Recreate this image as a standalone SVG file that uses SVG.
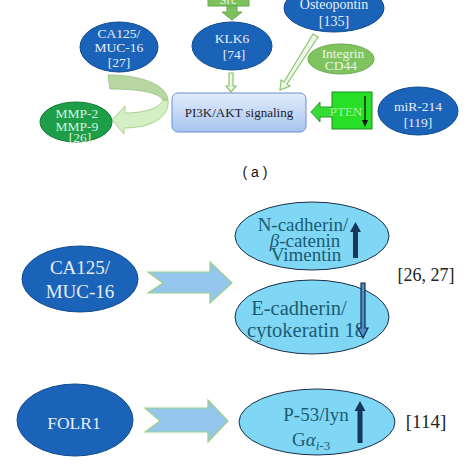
<svg xmlns="http://www.w3.org/2000/svg" width="474" height="474" viewBox="0 0 474 474">
<defs>
<linearGradient id="pg" x1="0" y1="0" x2="0" y2="1">
<stop offset="0" stop-color="#e2edfc"/>
<stop offset="1" stop-color="#a6c4ef"/>
</linearGradient>
<style>
.serif{font-family:"Liberation Serif","Times New Roman",serif;}
.blue{fill:#1a63b8;stroke:#0f4b8f;stroke-width:1;}
.wt{fill:#e6eef9;text-anchor:middle;}
.cyan{fill:#7fd7f5;stroke:#1b2f48;stroke-width:1;}
.ct{fill:#1c5c72;text-anchor:middle;}
.hollow{fill:#eef8e8;stroke:#8cc46f;stroke-width:1.2;}
.barrow{fill:#94c6ee;stroke:#9ccf88;stroke-width:1.2;}
.ref{fill:#222;}
</style>
</defs>
<rect width="474" height="474" fill="#ffffff"/>

<g id="connectors">
<!-- Src to KLK6 -->
<polygon points="227,6 237,6 237,12 242,12 232,20 222,12 227,12" fill="#7dc15f" stroke="#66a84c" stroke-width="1"/>
<!-- KLK6 to PI3K -->
<polygon points="229,73 233,73 233,86 236,86 231,92 226,86 229,86" class="hollow"/>
<!-- Osteopontin to PI3K -->
<polygon points="313,34 318,37 287,84 290,86 280,90 281,80 284,82" class="hollow"/>
<!-- curved arrow CA125 to MMP -->
<path d="M163,100 C160,108 145,113 125,113 L125,106 L112,120 L124,134 L124,128 C150,128 170,118 168,100 Z" fill="#d3efc3" stroke="#a7d490" stroke-width="1"/>
<path d="M108,75 C140,75 166,84 168,100 L163,100 C158,92 138,89 110,89 Z" fill="#b7d6a2" stroke="#a0c98a" stroke-width="1"/>
<!-- PTEN to PI3K -->
<polygon points="332,107 320,107 320,102 311,112 320,122 320,117 332,117" fill="#36dc36" stroke="#2a9a2a" stroke-width="1"/>
<!-- block arrows -->
<polygon points="148,272 210,272 210,262 232,283 210,303 210,293 148,293 163,283" class="barrow"/>
<polygon points="145,408 208,408 208,400 228,421 208,442 208,432 145,432 160,421" class="barrow"/>
</g>

<g id="src">
<rect x="208" y="-4" width="41" height="10" fill="#7dc15f" stroke="#66a84c" stroke-width="1"/>
<text x="228" y="4" class="serif" font-size="13" fill="#e8f5e0" text-anchor="middle">Src</text>
</g>

<g id="osteopontin">
<ellipse cx="334" cy="8" rx="50" ry="24" class="blue"/>
<text x="334" y="9" class="serif wt" font-size="14">Osteopontin</text>
<text x="334" y="26" class="serif wt" font-size="14">[135]</text>
</g>

<g id="klk6">
<ellipse cx="232" cy="46" rx="40" ry="24" class="blue"/>
<text x="232" y="43" class="serif wt" font-size="13.5">KLK6</text>
<text x="234" y="59" class="serif wt" font-size="13.5">[74]</text>
</g>

<g id="ca125-top">
<ellipse cx="119" cy="47" rx="39" ry="25" class="blue"/>
<text x="119" y="38" class="serif wt" font-size="13.5">CA125/</text>
<text x="119" y="52" class="serif wt" font-size="13.5">MUC-16</text>
<text x="119" y="67" class="serif wt" font-size="13.5">[27]</text>
</g>

<g id="integrin">
<ellipse cx="341" cy="59" rx="33" ry="15" fill="#7ec35e" stroke="#68a94d" stroke-width="1"/>
<text x="343" y="58" class="serif" font-size="13.5" fill="#eaf6e2" text-anchor="middle">Integrin</text>
<text x="341" y="70" class="serif" font-size="13.5" fill="#eaf6e2" text-anchor="middle">CD44</text>
</g>

<g id="pi3k">
<rect x="172" y="93" width="134" height="39" rx="6" fill="url(#pg)" stroke="#6b8ecd" stroke-width="1"/>
<text x="239" y="117" class="serif" font-size="13" fill="#1a1a2a" text-anchor="middle">PI3K/AKT signaling</text>
</g>

<g id="mmp">
<ellipse cx="76" cy="122" rx="36" ry="20" fill="#1f9e4a" stroke="#147a35" stroke-width="1"/>
<text x="77" y="118" class="serif" font-size="13.5" fill="#d8f2de" text-anchor="middle">MMP-2</text>
<text x="77" y="131" class="serif" font-size="13.5" fill="#d8f2de" text-anchor="middle">MMP-9</text>
<text x="80" y="142" class="serif" font-size="13.5" fill="#d8f2de" text-anchor="middle">[26]</text>
</g>

<g id="pten">
<rect x="332" y="92" width="40" height="37" fill="#27df27" stroke="#1c8c1c" stroke-width="1"/>
<text x="346" y="116" class="serif" font-size="13" fill="#aaf0a0" text-anchor="middle">PTEN</text>
<line x1="365" y1="96" x2="365" y2="121" stroke="#111" stroke-width="1.3"/>
<polygon points="362,120 368,120 365,127" fill="#111"/>
</g>

<g id="mir214">
<ellipse cx="418" cy="111" rx="40" ry="24" class="blue"/>
<text x="418" y="111" class="serif wt" font-size="13.5">miR-214</text>
<text x="418" y="127" class="serif wt" font-size="13.5">[119]</text>
</g>

<text x="255" y="177" font-family="Liberation Sans, Arial, sans-serif" font-size="14" fill="#111" text-anchor="middle">( a )</text>

<g id="ca125-bottom">
<ellipse cx="80" cy="279" rx="58" ry="33" class="blue" fill="#1c6bc2"/>
<text x="80" y="274" class="serif wt" font-size="19">CA125/</text>
<text x="80" y="298" class="serif wt" font-size="19">MUC-16</text>
</g>

<g id="ncadherin">
<ellipse cx="312" cy="236" rx="77" ry="34" class="cyan"/>
<text x="303" y="231" class="serif ct" font-size="19">N-cadherin/</text>
<text x="305" y="247" class="serif ct" font-size="19"><tspan font-style="italic">β</tspan>-catenin</text>
<text x="306" y="261" class="serif ct" font-size="19">Vimentin</text>
<polygon points="353,258 358,258 358,232 361,232 355.5,222 350,232 353,232" fill="#16375a"/>
</g>

<g id="ecadherin">
<ellipse cx="312" cy="317" rx="77" ry="37" class="cyan"/>
<text x="299" y="315" class="serif ct" font-size="20.5">E-cadherin/</text>
<text x="306" y="337" class="serif ct" font-size="20.5">cytokeratin 18</text>
<polygon points="361,283 365,283 365,328 368,328 363,338 358,328 361,328" fill="#4f8fc6" stroke="#132d4e" stroke-width="1.2"/>
</g>

<text x="426" y="281" class="serif ref" font-size="18" text-anchor="middle">[26, 27]</text>

<g id="folr1">
<ellipse cx="75" cy="420" rx="58" ry="36" class="blue" fill="#1c6bc2"/>
<text x="74" y="429" class="serif wt" font-size="17.5">FOLR1</text>
</g>

<g id="p53">
<ellipse cx="317" cy="422" rx="78" ry="33" class="cyan"/>
<text x="316" y="421" class="serif ct" font-size="19">P-53/lyn</text>
<text x="292" y="446" class="serif" font-size="19" fill="#1c5c72">G<tspan font-style="italic">α</tspan><tspan font-size="13" font-style="italic" dy="4">i</tspan><tspan font-size="13" dy="0">-3</tspan></text>
<polygon points="357.5,443 362.5,443 362.5,411 365.5,411 360,401 354.5,411 357.5,411" fill="#16375a"/>
</g>

<text x="426" y="428" class="serif ref" font-size="19" text-anchor="middle">[114]</text>
</svg>
